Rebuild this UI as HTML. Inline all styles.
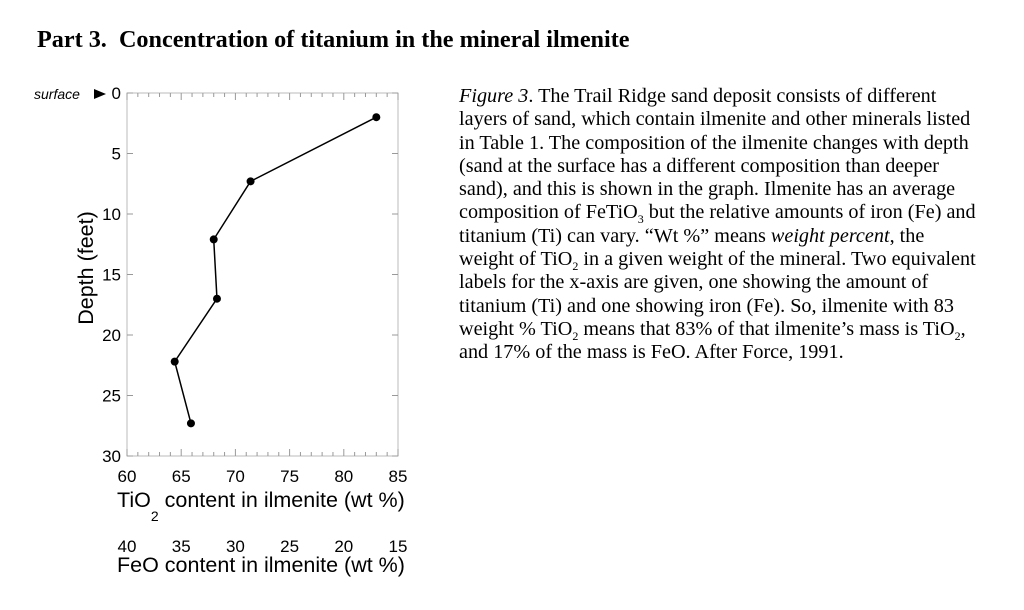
<!DOCTYPE html>
<html><head><meta charset="utf-8"><style>
body{margin:0;width:1024px;height:610px;background:#fff;position:relative;overflow:hidden;font-family:"Liberation Sans",sans-serif}
#title{position:absolute;left:37px;top:26px;font:bold 24.2px "Liberation Serif",serif;color:#000;white-space:nowrap}
#caption{position:absolute;left:459px;top:85px;font:20.2px/23.3px "Liberation Serif",serif;color:#000}
#caption div{white-space:nowrap}
sub{font-size:12px;line-height:0}
</style></head><body>
<div id="title">Part 3.&nbsp; Concentration of titanium in the mineral ilmenite</div>
<svg id="chart" width="450" height="610" style="position:absolute;left:0;top:0" font-family="Liberation Sans, sans-serif"></svg>
<div id="caption">
<div><i>Figure 3</i>. The Trail Ridge sand deposit consists of different</div>
<div>layers of sand, which contain ilmenite and other minerals listed</div>
<div>in Table 1. The composition of the ilmenite changes with depth</div>
<div>(sand at the surface has a different composition than deeper</div>
<div>sand), and this is shown in the graph. Ilmenite has an average</div>
<div>composition of FeTiO<sub>3</sub> but the relative amounts of iron (Fe) and</div>
<div>titanium (Ti) can vary. “Wt %” means <i>weight percent</i>, the</div>
<div>weight of TiO<sub>2</sub> in a given weight of the mineral. Two equivalent</div>
<div>labels for the x-axis are given, one showing the amount of</div>
<div>titanium (Ti) and one showing iron (Fe). So, ilmenite with 83</div>
<div>weight % TiO<sub>2</sub> means that 83% of that ilmenite’s mass is TiO<sub>2</sub>,</div>
<div>and 17% of the mass is FeO. After Force, 1991.</div>
</div>
<script>
const tio2 = [83.0, 71.4, 68.0, 68.3, 64.4, 65.9];
const depth = [2.0, 7.3, 12.1, 17.0, 22.2, 27.3];
const xTicks = [60, 65, 70, 75, 80, 85];
const feoTicks = [40, 35, 30, 25, 20, 15];
const yTicks = [0, 5, 10, 15, 20, 25, 30];
const NS = "http://www.w3.org/2000/svg";
const svg = document.getElementById('chart');
const L=127, R=398, T=93, B=456;
const xs = v => L + (v-60)/25*(R-L);
const ys = v => T + v/30*(B-T);
function mk(tag, attrs, text){const e=document.createElementNS(NS,tag);for(const k in attrs)e.setAttribute(k,attrs[k]);if(text!==undefined)e.textContent=text;svg.appendChild(e);return e;}
let f=mk('rect',{x:L,y:T,width:R-L,height:B-T,fill:'none',stroke:'#bbb','stroke-width':1});


for(let v=60;v<=85;v++){const len=(v%5===0)?7:4;
 let a=mk('line',{x1:xs(v),x2:xs(v),y1:T,y2:T+len,stroke:'#999'});
 let b=mk('line',{x1:xs(v),x2:xs(v),y1:B,y2:B-len,stroke:'#999'});}
xTicks.forEach(v=>{let t=mk('text',{x:xs(v),y:482,'font-size':17,'text-anchor':'middle'},v);});
feoTicks.forEach((v,i)=>{let t=mk('text',{x:xs(xTicks[i]),y:552,'font-size':17,'text-anchor':'middle'},v);});
yTicks.forEach(v=>{
 let a=mk('line',{x1:L,x2:L+6,y1:ys(v),y2:ys(v),stroke:'#999'});
 let b=mk('line',{x1:R,x2:R-6,y1:ys(v),y2:ys(v),stroke:'#999'});
 let t=mk('text',{x:L-6,y:ys(v)+6,'font-size':17,'text-anchor':'end'},v);});
let s=mk('text',{x:34,y:99,'font-size':14,'font-style':'italic'},'surface');
let ar=mk('polygon',{points:'94,89 106,94 94,99',fill:'#000'});
let yt=mk('text',{x:0,y:0,'font-size':21.5,'text-anchor':'middle',transform:'translate(93,268) rotate(-90)'},'Depth (feet)');
let xt=mk('text',{x:117,y:507,'font-size':21.5},'');xt.innerHTML='TiO<tspan dy="14" font-size="14">2</tspan><tspan dy="-14"> content in ilmenite (wt %)</tspan>';
let xt2=mk('text',{x:117,y:572,'font-size':21.5},'FeO content in ilmenite (wt %)');
let ln=mk('polyline',{points:tio2.map((v,i)=>xs(v)+','+ys(depth[i])).join(' '),fill:'none',stroke:'#000','stroke-width':1.5});
tio2.forEach((v,i)=>{let c=mk('circle',{cx:xs(v),cy:ys(depth[i]),r:4,fill:'#000'});});
</script>
</body></html>
